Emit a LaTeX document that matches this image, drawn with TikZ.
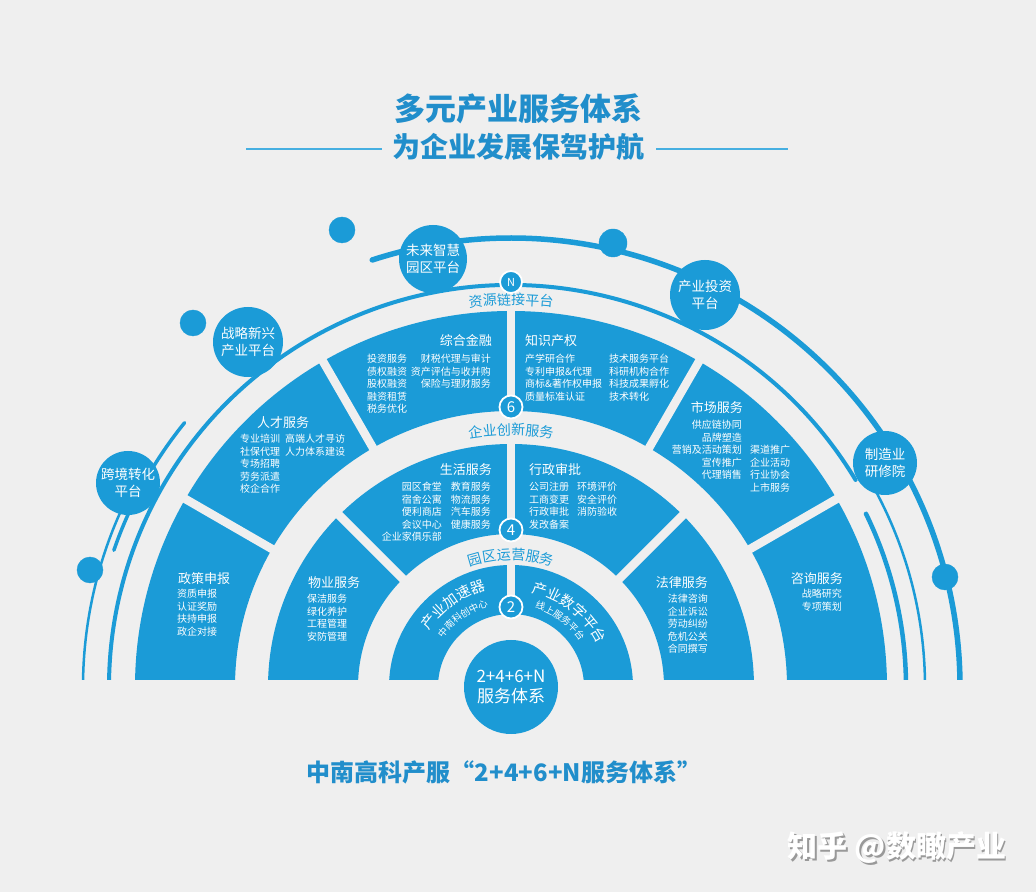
\documentclass[tikz,border=0pt]{standalone}
\usepackage{fontspec}
\setmainfont{Noto Sans CJK SC}
\usetikzlibrary{decorations.text}
\usepackage{xcolor}

\definecolor{zblue}{RGB}{27,155,215}
\definecolor{ztitle}{RGB}{33,142,203}
\definecolor{zbg}{RGB}{239,239,239}
\definecolor{zline}{RGB}{70,175,225}
\newcommand\ringfont{\fontsize{14}{14}\selectfont}
\newcommand\accfont{\fontsize{14.5}{14.5}\selectfont}
\newcommand\accsmall{\fontsize{9.5}{9.5}\selectfont}
\tikzset{
  segtitle/.style={inner sep=0pt, text=white, font=\fontsize{13}{13}\selectfont},
  segitem/.style={inner sep=0pt, text=white, font=\fontsize{10}{12.5}\selectfont},
  gapline/.style={zbg, line width=8.5pt},
  orbit/.style={zblue, line cap=round},
  platform/.style={circle, fill=zblue, text=white, inner sep=0pt, align=center, font=\fontsize{13.5}{17}\selectfont},
  badge/.style={circle, fill=zblue, draw=white, line width=1.8pt, text=white, inner sep=0pt, minimum size=23pt},
}

\begin{document}
\begin{tikzpicture}[x=1pt,y=1pt]
\useasboundingbox (0,0) rectangle (1036,892);
\fill [zbg] (0,0) rectangle (1036,892);

% rings and orbits, cut a little above the centre
\begin{scope}[shift={(511,205)}]
\clip (-520,7) rectangle (520,520);
\fill [zblue] (0:376) arc [start angle=0, end angle=180, radius=376] -- (180:276) arc [start angle=180, end angle=0, radius=276] -- cycle;
\fill [zblue] (0:243) arc [start angle=0, end angle=180, radius=243] -- (180:153) arc [start angle=180, end angle=0, radius=153] -- cycle;
\fill [zblue] (0:122) arc [start angle=0, end angle=180, radius=122] -- (180:73) arc [start angle=180, end angle=0, radius=73] -- cycle;
\foreach \a in {30,60,90,120,150} \draw [gapline] (\a:270) -- (\a:382);
\foreach \a in {45,90,135} \draw [gapline] (\a:148) -- (\a:248);
\draw [gapline] (90:68) -- (90:127);
%\draw [orbit, line width=5.5pt] (0:449) arc [start angle=0, end angle=180, radius=449];
\draw [orbit, line width=5.5pt] (0:449) arc [start angle=0, end angle=108, radius=449];
\draw [orbit, line width=4pt] (31:402) arc [start angle=31, end angle=180, radius=402];
\draw [orbit, line width=2.5pt] (0:414) arc [start angle=0, end angle=31, radius=414];
\draw [orbit, line width=4.5pt] (0:395) arc [start angle=0, end angle=26, radius=395];
\draw [orbit, line width=2.5pt] (152:428) arc [start angle=152, end angle=180, radius=428];
\draw [orbit, line width=3.5pt] (141:420) arc [start angle=141, end angle=161, radius=420];
\end{scope}

% ring labels and number badges
\begin{scope}[shift={(511,205)}]
\path [decorate, decoration={text along path, text={|\ringfont|资源链接平台}, text align=center, text color=zblue}] (150:382) arc [start angle=150, end angle=30, radius=382];
\path [decorate, decoration={text along path, text={|\ringfont|企业创新服务}, text align=center, text color=zblue}] (150:252) arc [start angle=150, end angle=30, radius=252];
\path [decorate, decoration={text along path, text={|\ringfont|园区运营服务}, text align=center, text color=zblue}] (150:127) arc [start angle=150, end angle=30, radius=127];
\path [decorate, decoration={text along path, text={|\accfont|产业加速器}, text align=center, text color=white}] (160:100) arc [start angle=160, end angle=90, radius=100];
\path [decorate, decoration={text along path, text={|\accsmall|中南科创中心}, text align=center, text color=white}] (160:84) arc [start angle=160, end angle=90, radius=84];
\path [decorate, decoration={text along path, text={|\accfont|产业数字平台}, text align=center, text color=white}] (87:96.5) arc [start angle=87, end angle=17, radius=96.5];
\path [decorate, decoration={text along path, text={|\accsmall|线上服务平台}, text align=center, text color=white}] (88.5:82.5) arc [start angle=88.5, end angle=18.5, radius=82.5];
\node [badge, font=\fontsize{15}{15}\selectfont] (b2) at (0,80) {2};
\node [badge, font=\fontsize{15}{15}\selectfont] (b4) at (0,157) {4};
\node [badge, font=\fontsize{15}{15}\selectfont] (b6) at (0,280) {6};
\node [badge, minimum size=22pt, font=\fontsize{11}{11}\selectfont] (bN) at (0,405) {N};
\end{scope}

% platforms on the orbits
\draw [fill, zblue] (342,662) circle [radius=13];
\draw [fill, zblue] (193,569) circle [radius=13];
\draw [fill, zblue] (90,322) circle [radius=13];
\draw [fill, zblue] (613,649) circle [radius=14];
\draw [fill, zblue] (945,315) circle [radius=13];
\node [platform, minimum size=68pt] (pWeilai) at (433,633) {未来智慧\\园区平台};
\node [platform, minimum size=70pt] (pZhanlue) at (248,550) {战略新兴\\产业平台};
\node [platform, minimum size=64pt] (pKuajing) at (128,409) {跨境转化\\平台};
\node [platform, minimum size=70pt] (pTouzi) at (705,597) {产业投资\\平台};
\node [platform, minimum size=64pt] (pZhizao) at (885,429) {制造业\\研修院};

% outer ring
\node [segtitle, anchor=east] (sJinrong) at (492,551) {综合金融};
\node [segitem, anchor=north west, align=left] (sJinrongA) at (367,537.7) {投资服务\\债权融资\\股权融资\\融资租赁\\税务优化};
\node [segitem, anchor=north east, align=right] (sJinrongB) at (491,537.7) {财税代理与审计\\资产评估与收并购\\保险与理财服务};
\node [segtitle, anchor=west] (sChanquan) at (525,551) {知识产权};
\node [segitem, anchor=north west, align=left] (sChanquanA) at (525,537.7) {产学研合作\\专利申报\&代理\\商标\&著作权申报\\质量标准认证};
\node [segitem, anchor=north west, align=left] (sChanquanB) at (609,537.7) {技术服务平台\\科研机构合作\\科技成果孵化\\技术转化};
\node [segtitle, anchor=west] (sRencai) at (257,469) {人才服务};
\node [segitem, anchor=north west, align=left] (sRencaiA) at (240,457.7) {专业培训\\社保代理\\专场招聘\\劳务派遣\\校企合作};
\node [segitem, anchor=north west, align=left] (sRencaiB) at (285,457.7) {高端人才寻访\\人力体系建设};
\node [segtitle, anchor=east] (sShichang) at (743,484) {市场服务};
\node [segitem, anchor=north east, align=right] (sShichangA) at (742,471.7) {供应链协同\\品牌塑造\\营销及活动策划\\宣传推广\\代理销售};
\node [segitem, anchor=north west, align=left] (sShichangB) at (750,446.7) {渠道推广\\企业活动\\行业协会\\上市服务};
\node [segtitle, anchor=west] (sZhengce) at (178,313) {政策申报};
\node [segitem, anchor=north west, align=left] (sZhengceA) at (177,302.7) {资质申报\\认证奖励\\扶持申报\\政企对接};
\node [segtitle, anchor=east] (sZixun) at (843,313) {咨询服务};
\node [segitem, anchor=north east, align=right] (sZixunA) at (842,302.7) {战略研究\\专项策划};

% middle ring
\node [segtitle, anchor=east] (sShenghuo) at (492,422) {生活服务};
\node [segitem, anchor=north east, align=right] (sShenghuoA) at (442,409.7) {园区食堂\\宿舍公寓\\便利商店\\会议中心\\企业家俱乐部};
\node [segitem, anchor=north east, align=right] (sShenghuoB) at (491,409.7) {教育服务\\物流服务\\汽车服务\\健康服务};
\node [segtitle, anchor=west] (sXingzheng) at (529,422) {行政审批};
\node [segitem, anchor=north west, align=left] (sXingzhengA) at (529,409.7) {公司注册\\工商变更\\行政审批\\发改备案};
\node [segitem, anchor=north west, align=left] (sXingzhengB) at (577,409.7) {环境评价\\安全评价\\消防验收};
\node [segtitle, anchor=west] (sWuye) at (308,309) {物业服务};
\node [segitem, anchor=north west, align=left] (sWuyeA) at (307,297.7) {保洁服务\\绿化养护\\工程管理\\安防管理};
\node [segtitle, anchor=east] (sFalv) at (708,309) {法律服务};
\node [segitem, anchor=north east, align=right] (sFalvA) at (708,297.7) {法律咨询\\企业诉讼\\劳动纠纷\\危机公关\\合同撰写};

% centre
\node [circle, fill=zblue, minimum size=94pt, inner sep=0pt, text=white, align=center, font=\fontsize{17}{20}\selectfont] (core) at (511,205) {2+4+6+N\\服务体系};

% titles
\node [inner sep=0pt, text=ztitle, font=\fontsize{31}{31}\selectfont\bfseries] (tMain) at (518,783) {多元产业服务体系};
\node [inner sep=0pt, text=ztitle, font=\fontsize{28}{28}\selectfont\bfseries] (tSub) at (518,745) {为企业发展保驾护航};
\draw [zline, line width=1.3pt] ([xshift=-10pt,yshift=-2pt]tSub.west) -- ++(-136,0);
\draw [zline, line width=1.3pt] ([xshift=12pt,yshift=-2pt]tSub.east) -- ++(132,0);
\node [inner sep=0pt, text=ztitle, font=\fontsize{24}{24}\selectfont\bfseries] (tCaption) at (504,120) {中南高科产服“2+4+6+N服务体系”};
\node [inner sep=0pt, text=black!40, font=\fontsize{30}{30}\selectfont\bfseries] (wmShadow) at (898.5,42.5) {知乎 @数瞰产业};
\node [inner sep=0pt, text=white, font=\fontsize{30}{30}\selectfont\bfseries] (wm) at (897,44) {知乎 @数瞰产业};
\end{tikzpicture}
\end{document}
